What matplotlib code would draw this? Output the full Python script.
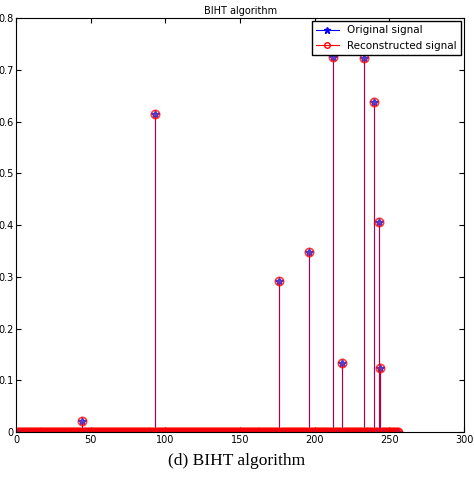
import matplotlib

matplotlib.use("Agg")

import matplotlib.pyplot as plt
import numpy as np
from matplotlib.lines import Line2D

N = 256
spike_idx = [43, 92, 175, 195, 211, 217, 232, 239, 242, 243]
spike_val = [0.022, 0.615, 0.292, 0.347, 0.725, 0.133, 0.722, 0.637, 0.406, 0.124]

original = np.zeros(N)
original[spike_idx] = spike_val
reconstructed = original.copy()
x = np.arange(1, N + 1)

fig = plt.figure(figsize=(4.74, 4.94), dpi=100)
ax = fig.add_axes([0.034, 0.1255, 0.945, 0.838])

m1, s1, b1 = ax.stem(x, original, linefmt="b-", markerfmt="b*", basefmt=" ")
plt.setp(s1, linewidth=0.8)
plt.setp(m1, markersize=6, markeredgecolor="#3a3ad8", color="#5a4ad8")
m2, s2, b2 = ax.stem(x, reconstructed, linefmt="r-", markerfmt="ro", basefmt=" ")
plt.setp(s2, linewidth=0.8, alpha=0.7)
plt.setp(m2, markersize=6, markerfacecolor="none", markeredgewidth=1.2, alpha=0.75)

ax.set_xlim(0, 300)
ax.set_ylim(0, 0.8)
ax.set_xticks(range(0, 301, 50))
ax.set_yticks([0, 0.1, 0.2, 0.3, 0.4, 0.5, 0.6, 0.7, 0.8])
ax.set_yticklabels(["0", "0.1", "0.2", "0.3", "0.4", "0.5", "0.6", "0.7", "0.8"])
ax.tick_params(labelsize=7, direction="in", top=True, right=True, pad=2)
ax.set_title("BIHT algorithm", fontsize=7, pad=3)

handles = [
    Line2D([], [], color="b", marker="*", lw=0.8, markersize=5),
    Line2D([], [], color="r", marker="o", lw=0.8, markersize=4, markerfacecolor="none"),
]
ax.legend(handles, ["Original signal", "Reconstructed signal"], loc="upper right",
          fontsize=7.5, fancybox=False, edgecolor="black", borderaxespad=0.3,
          handlelength=2.2, framealpha=1)

fig.text(0.5, 0.066, "(d) BIHT algorithm", ha="center", va="center",
         fontsize=12.5, family="Liberation Serif")

plt.savefig("out.png", dpi=100)
plt.close()
